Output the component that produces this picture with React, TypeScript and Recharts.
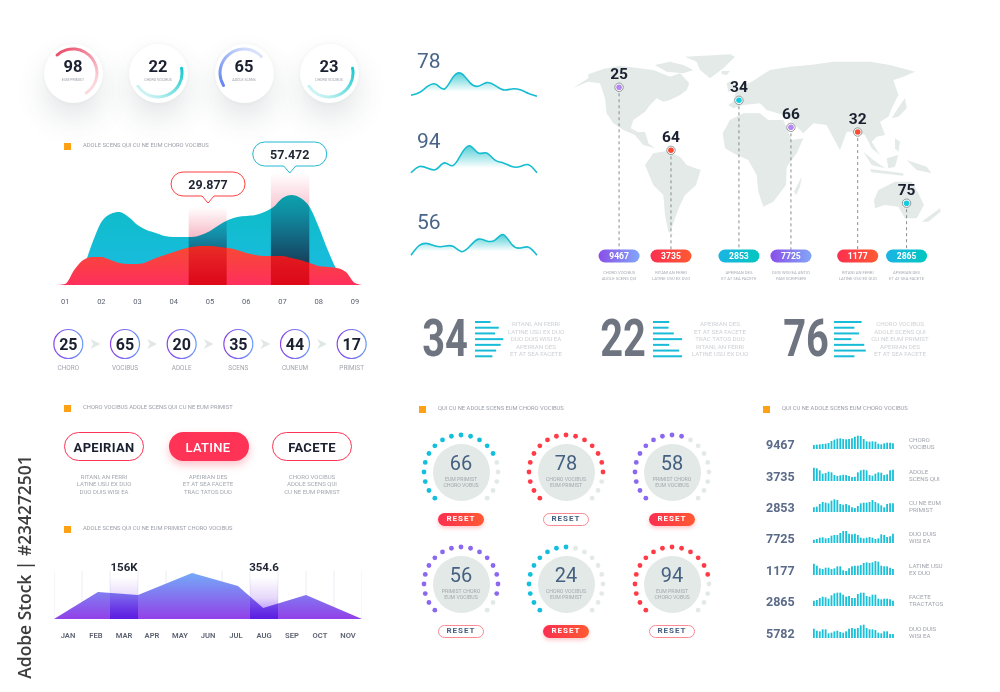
import React from 'react';
import {
  AreaChart, Area, BarChart, Bar, PieChart, Pie, ScatterChart, Scatter, CartesianGrid,
  XAxis, YAxis, ReferenceArea, ReferenceDot, ReferenceLine,
} from 'recharts';

const FONT = 'Roboto, sans-serif';

// top gauges
const gaugeValues = [98, 22, 65, 23];
const gaugeLabels = ['EUM PRIMIST', 'CHORO VOCIBUS', 'ADOLE SCENS', 'CHORO VOCIBUS'];

// main area chart, x is in units of the 01..09 axis
const waveX = [0.75, 1, 1.25, 1.5, 1.75, 2, 2.25, 2.5, 2.75, 3, 3.25, 3.5, 3.75, 4, 4.25, 4.5, 4.75, 5, 5.25, 5.5, 5.75, 6, 6.25, 6.5, 6.75, 7, 7.25, 7.5, 7.75, 8, 8.25, 8.5, 8.75, 9, 9.2];
const waveTeal = [0, 0, 2, 17, 42, 63, 71, 73, 68, 60, 55, 52, 49, 48, 48, 48, 50, 54, 60, 65, 68, 69, 70, 73, 78, 87, 90, 87, 78, 58, 35, 15, 3, 0, 0];
const waveRed = [0, 1, 15, 25, 28, 28, 25, 22, 21, 21, 23, 27, 30, 33, 36, 38, 39, 39, 38, 37, 35, 32, 30, 29, 29, 29, 27, 25, 22, 19, 18, 17, 13, 2, 0];
const waveTicks = [1, 2, 3, 4, 5, 6, 7, 8, 9];

// chain of numbers below it
const chainValues = [25, 65, 20, 35, 44, 17];
const chainLabels = ['CHORO', 'VOCIBUS', 'ADOLE', 'SCENS', 'CUNEUM', 'PRIMIST'];

// sparklines
const sparkNumbers = [78, 94, 56];
const spark1 = [3, 6, 13, 15, 10, 23, 27, 17, 13, 17, 14, 9, 10, 9, 5, 2];
const spark2 = [3, 10, 8, 7, 14, 11, 24, 33, 25, 25, 17, 14, 10, 10, 12, 3];
const spark3 = [2, 13, 15, 12, 12, 12, 6, 12, 20, 18, 19, 25, 14, 10, 11, 2];

// map pins
const pinLon = [-117.8, -70, -7.4, 40.5, 102, 147];
const pinLat = [53.75, 14.4, 45.6, 28.75, 25.8, -18.6];
const pinNumbers = [25, 64, 34, 66, 32, 75];
const pinValues = [9467, 3735, 2853, 7725, 1177, 2865];
const pinKinds = ['purple', 'red', 'teal', 'purple', 'red', 'teal'];
const pinCaptions = [
  ['CHORO VOCIBUS', 'ADOLE SCENS QUI'],
  ['RITANI AN FERRI', 'LATINE USU EX DUO'],
  ['APEIRIAN DES', 'ET AT SEA FACETE'],
  ['DUIS WISI EA ANTIO', 'PAM SCRIPSERI'],
  ['RITANI AN FERRI', 'LATINE USU EX DUO'],
  ['APEIRIAN DES', 'ET AT SEA FACETE'],
];

// kpi row with horizontal bars
const kpiNumbers = [34, 22, 76];
const kpiBars1 = [41, 63, 53, 75, 68, 56, 46];
const kpiBars2 = [43, 41, 55, 77, 43, 69, 77];
const kpiBars3 = [73, 54, 66, 46, 80, 84, 54];
const kpiText = [
  ['RITANI, AN FERRI', 'LATINE USU EX DUO', 'DUO DUIS WISI EA', 'APEIRIAN DES', 'ET AT SEA FACETE'],
  ['APEIRIAN DES', 'ET AT SEA FACETE', 'TRAC TATOS DUO', 'RITANI, AN FERRI', 'LATINE USU EX DUO'],
  ['CHORO VOCIBUS', 'ADOLE SCENS QUI', 'CU NE EUM PRIMIST', 'APEIRIAN DES', 'ET AT SEA FACETE'],
];

// pill buttons
const pillLabels = ['APEIRIAN', 'LATINE', 'FACETE'];
const pillText = [
  ['RITANI, AN FERRI', 'LATINE USU EX DUO', 'DUO DUIS WISI EA'],
  ['APEIRIAN DES', 'ET AT SEA FACETE', 'TRAC TATOS DUO'],
  ['CHORO VOCIBUS', 'ADOLE SCENS QUI', 'CU NE EUM PRIMIST'],
];

// purple month chart
const months = ['JAN', 'FEB', 'MAR', 'APR', 'MAY', 'JUN', 'JUL', 'AUG', 'SEP', 'OCT', 'NOV'];
const monthX = [0, 1.57, 3, 4.93, 6.57, 7.47, 9, 11];
const monthY = [0, 27, 24, 46, 33, 11, 24, 0];

// dot gauges
const dialValues = [66, 78, 58, 56, 24, 94];
const dialLit = [14, 16, 11, 17, 10, 15];
const dialColors = ['#12bfdc', '#ff3b47', '#8a68f0', '#8a68f0', '#12bfdc', '#ff3b47'];
const dialText = [
  ['EUM PRIMIST', 'CHORO VOBUS'],
  ['CHORO VOCIBUS', 'EUM PRIMIST'],
  ['PRIMIST CHORO', 'EUM VOCIBUS'],
  ['PRIMIST CHORO', 'EUM VOCIBUS'],
  ['CHORO VOCIBUS', 'EUM PRIMIST'],
  ['EUM PRIMIST', 'CHORO VOBUS'],
];
const dialReset = [true, false, true, false, true, false];

// small bar rows
const rowValues = [9467, 3735, 2853, 7725, 1177, 2865, 5782];
const rowText = [
  ['CHORO', 'VOCIBUS'], ['ADOLE', 'SCENS QUI'], ['CU NE EUM', 'PRIMIST'], ['DUO DUIS', 'WISI EA'],
  ['LATINE USU', 'EX DUO'], ['FACETE', 'TRACTATOS'], ['DUO DUIS', 'WISI EA'],
];
const row1 = [12, 13, 14, 15, 16, 18, 24, 28, 31, 32, 30, 29, 30, 32, 37, 40, 39, 30, 23, 22, 23, 22, 16, 14, 17, 19, 19, 17];
const row2 = [40, 38, 32, 22, 24, 28, 26, 18, 15, 17, 19, 18, 15, 12, 13, 26, 32, 34, 32, 18, 16, 22, 26, 25, 18, 20, 32, 34];
const row3 = [14, 16, 24, 30, 28, 26, 34, 38, 36, 24, 22, 24, 20, 14, 12, 18, 26, 28, 28, 30, 36, 30, 26, 20, 14, 24, 26, 26];
const row4 = [10, 12, 16, 17, 14, 15, 22, 24, 24, 30, 36, 36, 28, 26, 28, 24, 16, 14, 16, 18, 16, 12, 14, 26, 24, 18, 20, 28];
const row5 = [34, 28, 20, 18, 22, 22, 18, 20, 26, 26, 14, 12, 20, 26, 28, 28, 30, 36, 38, 36, 38, 42, 40, 28, 26, 26, 22, 18];
const row6 = [16, 18, 24, 28, 26, 22, 32, 38, 40, 40, 34, 28, 30, 24, 24, 36, 40, 40, 30, 28, 34, 34, 22, 20, 22, 22, 20, 16];
const row7 = [28, 22, 20, 26, 26, 14, 16, 20, 22, 18, 16, 20, 28, 30, 28, 30, 38, 40, 30, 26, 26, 24, 16, 14, 20, 20, 12, 12];
const rowSeries = [row1, row2, row3, row4, row5, row6, row7];

// map shapes, traced in a 1170x645 box
const continents = [
  '10,128 55,100 55,88 100,72 150,62 195,68 250,75 300,95 330,85 358,115 350,135 330,150 300,165 280,170 260,160 240,180 225,200 190,225 182,250 205,262 225,260 235,295 255,310 220,300 195,270 160,255 130,235 110,205 105,160 90,115 55,110',
  '255,60 300,50 340,60 370,75 340,85 290,80',
  '345,35 480,28 495,35 460,70 420,100 390,75 380,50',
  '455,78 480,78 470,90 455,88',
  '470,115 490,105 495,135 475,140',
  '225,360 250,325 290,318 330,335 350,360 392,375 378,420 345,450 330,480 315,520 300,565 318,570 295,560 285,510 280,450 250,420',
  '458,265 480,225 520,205 570,205 595,225 640,225 665,285 700,280 680,325 650,365 648,420 610,470 580,485 565,440 560,390 535,345 490,325 465,310',
  '672,440 695,395 690,425 678,450',
  '475,180 490,170 500,130 545,110 600,75 660,65 720,60 790,50 900,50 960,60 1035,80 1000,95 970,105 985,150 965,190 955,215 930,230 945,270 920,275 905,290 930,330 905,310 885,270 860,260 830,260 810,315 785,270 770,240 730,235 700,265 660,225 640,210 590,195 570,175 520,180 490,190',
  '990,180 1005,160 1010,190 985,215 965,220',
  '880,320 910,345 945,370 905,360',
  '950,340 985,330 975,365 955,370',
  '1010,345 1070,365 1085,385 1040,375',
  '900,372 1000,385 1000,392 905,382',
  '975,280 990,290 985,320 975,310',
  '912,465 925,435 975,410 1025,410 1045,445 1062,480 1040,520 1005,520 985,485 945,480 915,490',
  '1055,530 1110,490 1112,500 1075,530',
];

const pos = (left: number, top: number, width: number, height: number): React.CSSProperties => ({
  position: 'absolute', left, top, width, height,
});

const Txt = ({ x, y, size, color, weight = 400, align = 'center', children, spacing = 0, sx = 1 }: any) => (
  <div style={{
    position: 'absolute', left: x, top: y, whiteSpace: 'nowrap', fontFamily: FONT, fontSize: size, color,
    fontWeight: weight, lineHeight: 1, letterSpacing: spacing, textAlign: align,
    transform: `translate(${align === 'center' ? '-50%' : '0'}, -50%) scaleX(${sx})`,
    transformOrigin: align === 'center' ? 'center' : 'left',
  }}>{children}</div>
);

const Heading = ({ x, y, children }: any) => (
  <>
    <div style={{ ...pos(x, y - 3.5, 7, 7), background: '#ffa114' }} />
    <Txt x={x + 19} y={y} size={5.8} color="#9a9ea8" align="left">{children}</Txt>
  </>
);

const gaugeStyle = [
  { start: 135, end: -60, from: '#e8405f', to: '#fdecee', dir: [0, 0, 0.9, 1] },
  { start: 15, end: -150, from: '#0cc7cc', to: '#e8fafa', dir: [1, 0, 0, 0.9] },
  { start: 215, end: 40, from: '#5a7ff0', to: '#e6ecfd', dir: [0, 1, 0.9, 0] },
  { start: 15, end: -150, from: '#10c6cc', to: '#e8fafa', dir: [1, 0, 0, 0.9] },
];

const Gauge = ({ i, cx }: any) => {
  const s = gaugeStyle[i];
  return (
    <>
      <div style={{ ...pos(cx - 29.5, 43.5, 59, 59), borderRadius: '50%', background: '#fff', boxShadow: '0 16px 30px rgba(60,70,80,0.14), 0 0 4px rgba(60,70,80,0.05)' }} />
      <div style={pos(cx - 30, 43, 60, 60)}>
        <PieChart width={60} height={60} margin={{ top: 0, right: 0, bottom: 0, left: 0 }}>
          <defs>
            <linearGradient id={`ring${i}`} x1={s.dir[0]} y1={s.dir[1]} x2={s.dir[2]} y2={s.dir[3]}>
              <stop offset="0" stopColor={s.from} />
              <stop offset="1" stopColor={s.to} />
            </linearGradient>
          </defs>
          <Pie data={[{ v: gaugeValues[i] }]} dataKey="v" cx={30} cy={30} innerRadius={22.5} outerRadius={25.5}
            startAngle={s.start} endAngle={s.end} cornerRadius={1.5} stroke="none" fill={`url(#ring${i})`} isAnimationActive={false} />
        </PieChart>
      </div>
      <Txt x={cx} y={67} size={16.5} weight={700} color="#1b2030">{gaugeValues[i]}</Txt>
      <Txt x={cx} y={80.5} size={3.6} color="#9a9ea8">{gaugeLabels[i]}</Txt>
    </>
  );
};

const Callout = ({ cx, cy, color, text }: any) => (
  <g>
    <path
      d={`M${cx - 25} ${cy - 31} H${cx + 25} a12 12 0 0 1 0 24 H${cx + 6} L${cx} ${cy} L${cx - 6} ${cy - 7} H${cx - 25} a12 12 0 0 1 0 -24 Z`}
      fill="#fff" stroke={color} strokeWidth={1}
    />
    <text x={cx} y={cy - 14.5} textAnchor="middle" fontFamily={FONT} fontWeight={700} fontSize={12.5} fill="#1f2533">{text}</text>
  </g>
);

const WaveChart = () => {
  const data = waveX.map((x, i) => ({ x, teal: waveTeal[i], red: waveRed[i] }));
  return (
    <div style={pos(55, 135, 310, 180)}>
      <AreaChart width={310} height={180} data={data} margin={{ top: 5, right: 1, bottom: 0, left: 0 }}>
        <defs>
          <linearGradient id="waveTealFill" x1="0" y1="0" x2="0" y2="1">
            <stop offset="0" stopColor="#0cbcc4" />
            <stop offset="1" stopColor="#1cbce4" />
          </linearGradient>
          <linearGradient id="waveRedFill" x1="0" y1="0" x2="0" y2="1">
            <stop offset="0" stopColor="#f64a34" />
            <stop offset="1" stopColor="#ff2f5c" />
          </linearGradient>
          <linearGradient id="waveBand" x1="0" y1="0" x2="0" y2="1">
            <stop offset="0" stopColor="#ffffff" />
            <stop offset="0.35" stopColor="#f8c0cc" />
            <stop offset="1" stopColor="#dd2a40" />
          </linearGradient>
        </defs>
        <XAxis dataKey="x" type="number" domain={[0.72, 9.25]} ticks={waveTicks} interval={0}
          tickFormatter={(v: number) => `0${v}`} axisLine={false} tickLine={false}
          tick={{ fontFamily: FONT, fontSize: 7.5, fill: '#5c6270' }} tickMargin={8} height={30} />
        <YAxis hide domain={[0, 145]} />
        <Area dataKey="teal" type="monotone" stroke="none" fill="url(#waveTealFill)" fillOpacity={1} isAnimationActive={false} />
        <Area dataKey="red" type="monotone" stroke="none" fill="url(#waveRedFill)" fillOpacity={1} isAnimationActive={false} />
        <ReferenceArea x1={4.41} x2={5.46} y1={0} y2={78} fill="url(#waveBand)" fillOpacity={1} stroke="none" style={{ mixBlendMode: 'multiply' }} />
        <ReferenceArea x1={6.68} x2={7.74} y1={0} y2={112} fill="url(#waveBand)" fillOpacity={1} stroke="none" style={{ mixBlendMode: 'multiply' }} />
        <ReferenceDot x={4.945} y={82} r={0} shape={(p: any) => <Callout cx={p.cx} cy={p.cy} color="#ff4040" text="29.877" />} />
        <ReferenceDot x={7.2} y={112} r={0} shape={(p: any) => <Callout cx={p.cx} cy={p.cy} color="#22b8d0" text="57.472" />} />
      </AreaChart>
    </div>
  );
};

const ChainDot = (p: any) => {
  const { cx, cy, payload } = p;
  return (
    <g>
      <circle cx={cx} cy={cy} r={14.5} fill="#fff" stroke="url(#chainRing)" strokeWidth={1.2} />
      <text x={cx} y={cy + 6} textAnchor="middle" fontFamily={FONT} fontWeight={700} fontSize={16} fill="#1b2030">{payload.value}</text>
      {payload.x < chainValues.length - 1 && (
        <path d={`M${cx + 22} ${cy - 5} L${cx + 32} ${cy} L${cx + 22} ${cy + 5} L${cx + 25} ${cy} Z`} fill="#e0e7e5" />
      )}
    </g>
  );
};

const ChainChart = () => {
  const data = chainValues.map((value, x) => ({ x, y: 1, value }));
  return (
    <div style={pos(39.7, 324, 340, 60)}>
      <ScatterChart width={340} height={60} margin={{ top: 0, right: 0, bottom: 0, left: 0 }}>
        <defs>
          <linearGradient id="chainRing" x1="0" y1="0" x2="1" y2="0">
            <stop offset="0" stopColor="#8a44e6" />
            <stop offset="1" stopColor="#6a98f8" />
          </linearGradient>
        </defs>
        <XAxis dataKey="x" type="number" domain={[-0.5, 5.5]} ticks={[0, 1, 2, 3, 4, 5]} interval={0}
          tickFormatter={(v: number) => chainLabels[v]} axisLine={false} tickLine={false} height={20} tickSize={0} tickMargin={1}
          tick={{ fontFamily: FONT, fontSize: 6.4, fill: '#a0a4ac' }} />
        <YAxis dataKey="y" type="number" hide domain={[0, 2]} />
        <Scatter data={data} shape={ChainDot} isAnimationActive={false} />
      </ScatterChart>
    </div>
  );
};

const Spark = ({ id, values, top, height, max }: any) => {
  const data = values.map((v: number, i: number) => ({ i, v }));
  return (
    <div style={pos(410, top, 128, height)}>
      <AreaChart width={128} height={height} data={data} margin={{ top: 0, right: 1, bottom: 0, left: 1 }}>
        <defs>
          <linearGradient id={id} x1="0" y1="0" x2="0" y2="1">
            <stop offset="0" stopColor="#1cc0c8" stopOpacity={0.75} />
            <stop offset="0.75" stopColor="#1cc0c8" stopOpacity={0} />
          </linearGradient>
        </defs>
        <XAxis dataKey="i" hide />
        <YAxis hide domain={[0, max]} />
        <Area dataKey="v" type="natural" stroke="#16bcd0" strokeWidth={1.6} fill={`url(#${id})`} fillOpacity={1} isAnimationActive={false} />
      </AreaChart>
    </div>
  );
};

const pinFill: any = { purple: '#b488f0', red: '#fa4a30', teal: '#14cce0' };
const chipFrom: any = { purple: '#8a4fe8', red: '#fb2e50', teal: '#1ab4e4' };
const chipTo: any = { purple: '#82a6f8', red: '#ff5a32', teal: '#04c6c0' };

const PinTick = (p: any) => {
  const { x, index } = p;
  const kind = pinKinds[index];
  const y = 206; // chip centre inside this chart
  return (
    <g>
      <rect x={x - 20.5} y={y - 6.5} width={41} height={13} rx={6.5} fill={`url(#chip-${kind})`} />
      <text x={x} y={y + 3} textAnchor="middle" fontFamily={FONT} fontWeight={700} fontSize={8.6} fill="#fff">{pinValues[index]}</text>
      {pinCaptions[index].map((c, k) => (
        <text key={k} x={x} y={y + 17.5 + k * 6} textAnchor="middle" fontFamily={FONT} fontSize={4.2} fill="#a8acb4">{c}</text>
      ))}
    </g>
  );
};

const PinDot = (p: any) => {
  const { cx, cy, payload } = p;
  return (
    <g>
      <circle cx={cx} cy={cy} r={4.2} fill="#fff" stroke="#6a6e74" strokeWidth={0.7} />
      <circle cx={cx} cy={cy} r={2.8} fill={pinFill[payload.kind]} />
      <text x={cx} y={cy - 8} textAnchor="middle" fontFamily={FONT} fontWeight={700} fontSize={15.5} fill="#1b2030">{payload.num}</text>
    </g>
  );
};

const WorldMap = () => {
  const data = pinLon.map((x, i) => ({ x, y: pinLat[i], num: pinNumbers[i], kind: pinKinds[i] }));
  return (
    <>
      <svg style={pos(570, 45, 390, 215)} viewBox="0 0 1170 645">
        {continents.map((c, i) => <polygon key={i} points={c} fill="#e3eae7" />)}
      </svg>
      <div style={pos(570, 50, 380, 246)}>
        <ScatterChart width={380} height={246} margin={{ top: 0, right: 0, bottom: 0, left: 0 }}>
          <defs>
            {['purple', 'red', 'teal'].map(k => (
              <linearGradient key={k} id={`chip-${k}`} x1="0" y1="0" x2="1" y2="0">
                <stop offset="0" stopColor={chipFrom[k]} />
                <stop offset="1" stopColor={chipTo[k]} />
              </linearGradient>
            ))}
          </defs>
          <XAxis dataKey="x" type="number" domain={[-163, 187]} ticks={pinLon} interval={0} axisLine={false} tickLine={false}
            height={46} tick={PinTick} />
          <YAxis dataKey="y" type="number" hide domain={[-47.8, 77]} />
          {data.map((d, i) => (
            <ReferenceLine key={i} segment={[{ x: d.x, y: d.y }, { x: d.x, y: -47.8 }]} stroke="#7d8084" strokeDasharray="3 3" strokeWidth={0.9} />
          ))}
          <Scatter data={data} shape={PinDot} isAnimationActive={false} />
        </ScatterChart>
      </div>
    </>
  );
};

const KpiBars = ({ values, left }: any) => {
  const data = values.map((v: number, i: number) => ({ i, v }));
  return (
    <div style={pos(left, 319, 34, 40)}>
      <BarChart width={34} height={40} data={data} layout="vertical" margin={{ top: 0, right: 0, bottom: 0, left: 0 }}>
        <XAxis type="number" hide domain={[0, 90]} />
        <YAxis type="category" dataKey="i" hide />
        <Bar dataKey="v" fill="#18bcd8" barSize={2} isAnimationActive={false} />
      </BarChart>
    </div>
  );
};

const Lines = ({ x, y, step, size, color, lines }: any) => (
  <>
    {lines.map((l: string, i: number) => (
      <Txt key={i} x={x} y={y + i * step} size={size} color={color}>{l}</Txt>
    ))}
  </>
);

const MonthChart = () => {
  const data = monthX.map((x, i) => ({ x, y: monthY[i] }));
  const edges = months.map((_, i) => i).concat(months.length);
  return (
    <div style={pos(54, 555, 308, 90)}>
      <AreaChart width={308} height={90} data={data} margin={{ top: 16, right: 0, bottom: 0, left: 0 }}>
        <defs>
          <linearGradient id="monthFill" x1="0" y1="0" x2="0" y2="1">
            <stop offset="0" stopColor="#74aaf8" />
            <stop offset="1" stopColor="#9240e8" />
          </linearGradient>
          <linearGradient id="monthBand" x1="0" y1="0" x2="0" y2="1">
            <stop offset="0" stopColor="#ffffff" />
            <stop offset="0.5" stopColor="#e6d8fa" />
            <stop offset="1" stopColor="#a070f8" />
          </linearGradient>
        </defs>
        <CartesianGrid horizontal={false} verticalValues={edges} stroke="#e8eaf4" strokeWidth={0.8} />
        <XAxis dataKey="x" type="number" domain={[0, 11]} ticks={months.map((_, i) => i + 0.5)} interval={0}
          tickFormatter={(v: number) => months[v - 0.5]} axisLine={false} tickLine={false} height={26} tickMargin={8}
          tick={{ fontFamily: FONT, fontSize: 7.6, fontWeight: 600, fill: '#5c6270' }} />
        <YAxis hide domain={[0, 48]} />
        <Area dataKey="y" type="linear" stroke="none" fill="url(#monthFill)" fillOpacity={1} isAnimationActive={false} />
        <ReferenceArea x1={2} x2={3} y1={0} y2={42} fill="url(#monthBand)" fillOpacity={1} stroke="none" style={{ mixBlendMode: 'multiply' }}
          label={{ value: '156K', position: 'top', offset: 6, fontFamily: FONT, fontWeight: 700, fontSize: 11.5, fill: '#1f2533' }} />
        <ReferenceArea x1={7} x2={8} y1={0} y2={42} fill="url(#monthBand)" fillOpacity={1} stroke="none" style={{ mixBlendMode: 'multiply' }}
          label={{ value: '354.6', position: 'top', offset: 6, fontFamily: FONT, fontWeight: 700, fontSize: 11.5, fill: '#1f2533' }} />
      </AreaChart>
    </div>
  );
};

const DIAL_SLOTS = 19;

const Dial = ({ i, cx, cy }: any) => {
  const data = Array.from({ length: DIAL_SLOTS }, (_, k) => ({ k, v: 1 }));
  // the slices stay invisible, each one carries a round dot at its mid angle
  const dot = (p: any) => {
    const a = (-p.midAngle * Math.PI) / 180;
    return <circle key={p.index} cx={p.cx + 37 * Math.cos(a)} cy={p.cy + 37 * Math.sin(a)} r={2.4}
      fill={p.index < dialLit[i] ? dialColors[i] : '#e2e9e6'} />;
  };
  return (
    <>
      <div style={{ ...pos(cx - 28.5, cy - 28.5, 57, 57), borderRadius: '50%', background: '#e2e9e6' }} />
      <div style={pos(cx - 45, cy - 45, 90, 90)}>
        <PieChart width={90} height={90} margin={{ top: 0, right: 0, bottom: 0, left: 0 }}>
          <Pie data={data} dataKey="v" cx={45} cy={45} innerRadius={35} outerRadius={39} startAngle={232.5} endAngle={-52.5}
            stroke="none" fill="none" label={dot} labelLine={false} isAnimationActive={false} />
        </PieChart>
      </div>
      <Txt x={cx} y={cy - 9} size={21} color="#456080" sx={0.95}>{dialValues[i]}</Txt>
      <Lines x={cx} y={cy + 7.5} step={6.5} size={5.2} color="#a4a8ae" lines={dialText[i]} />
      <div style={{
        ...pos(cx - 23, cy + 40.5, 46, 13), boxSizing: 'border-box', borderRadius: 7,
        background: dialReset[i] ? 'linear-gradient(90deg,#fb2e50,#ff5a32)' : '#fff',
        border: dialReset[i] ? 'none' : '1px solid #fa8a94',
        boxShadow: dialReset[i] ? '0 2px 4px rgba(250,60,70,0.3)' : 'none',
      }} />
      <Txt x={cx} y={cy + 47} size={8} weight={700} spacing={1} color={dialReset[i] ? '#fff' : '#456080'}>RESET</Txt>
    </>
  );
};

const MiniBars = ({ values, top }: any) => {
  const data = values.map((v: number, i: number) => ({ i, v }));
  return (
    <div style={pos(811.5, top, 82, 15)}>
      <BarChart width={82} height={15} data={data} margin={{ top: 0, right: 0, bottom: 0, left: 0 }}>
        <XAxis dataKey="i" hide />
        <YAxis hide domain={[0, 45]} />
        <Bar dataKey="v" fill="#18c0d8" barSize={1.8} isAnimationActive={false} />
      </BarChart>
    </div>
  );
};

export default function App() {
  const gaugeX = [73, 158, 244, 329];
  const sparkY = [60.7, 141, 221.7];
  const kpiX = [445, 623, 806];
  const kpiBarX = [474.7, 652.7, 833.6];
  const kpiTextX = [536, 720, 900];
  const pillLeft = [64, 169, 272];
  const pillC = [104, 208, 312];
  const dialX = [461, 566, 672];
  const rowY = [445, 477, 508, 539, 571, 602, 634];

  return (
    <div style={{ ...pos(0, 0, 1000, 692), background: '#fff', overflow: 'hidden' }}>
      {gaugeX.map((cx, i) => <Gauge key={i} i={i} cx={cx} />)}

      <Heading x={64} y={146}>ADOLE SCENS QUI CU NE EUM CHORO VOCIBUS</Heading>
      <WaveChart />
      <ChainChart />

      {sparkNumbers.map((n, i) => <Txt key={i} x={417} y={sparkY[i]} size={21} color="#4a6488" align="left">{n}</Txt>)}
      <Spark id="spark1" values={spark1} top={69} height={29} max={32} />
      <Spark id="spark2" values={spark2} top={143.5} height={31.5} max={35} />
      <Spark id="spark3" values={spark3} top={232} height={25} max={28} />

      <WorldMap />

      {kpiNumbers.map((n, i) => (
        <Txt key={i} x={kpiX[i]} y={338} size={51} weight={700} color="#6e7480" sx={0.78}>{n}</Txt>
      ))}
      <KpiBars values={kpiBars1} left={kpiBarX[0]} />
      <KpiBars values={kpiBars2} left={kpiBarX[1]} />
      <KpiBars values={kpiBars3} left={kpiBarX[2]} />
      {kpiText.map((t, i) => <Lines key={i} x={kpiTextX[i]} y={324} step={7.6} size={6.2} color="#cdd0d4" lines={t} />)}

      <Heading x={64} y={408}>CHORO VOCIBUS ADOLE SCENS QUI CU NE EUM PRIMIST</Heading>
      {pillLabels.map((l, i) => {
        const on = i === 1;
        return (
          <React.Fragment key={l}>
            <div style={{
              ...pos(pillLeft[i], 432, 80, 29), boxSizing: 'border-box', borderRadius: 15,
              background: on ? '#ff3355' : '#fff', border: on ? 'none' : '1.2px solid #ff3355',
              boxShadow: on ? '0 4px 8px rgba(255,50,80,0.3)' : 'none',
            }} />
            <Txt x={pillC[i]} y={447} size={13} weight={on ? 500 : 700} spacing={0.3} color={on ? '#fff' : '#1b2030'}>{l}</Txt>
            <Lines x={pillC[i]} y={477} step={7.4} size={6} color="#a4a8ae" lines={pillText[i]} />
          </React.Fragment>
        );
      })}

      <Heading x={64} y={529}>ADOLE SCENS QUI CU NE EUM PRIMIST CHORO VOCIBUS</Heading>
      <MonthChart />

      <Heading x={419} y={409}>QUI CU NE ADOLE SCENS EUM CHORO VOCIBUS</Heading>
      {dialValues.map((_, i) => <Dial key={i} i={i} cx={dialX[i % 3]} cy={i < 3 ? 472 : 584} />)}

      <Heading x={763} y={409}>QUI CU NE ADOLE SCENS EUM CHORO VOCIBUS</Heading>
      {rowValues.map((v, i) => (
        <React.Fragment key={i}>
          <Txt x={766} y={rowY[i]} size={12.5} weight={700} color="#5a6a88" align="left">{v}</Txt>
          <MiniBars values={rowSeries[i]} top={rowY[i] - 11} />
          {rowText[i].map((l, k) => <Txt key={k} x={909} y={rowY[i] - 5 + k * 7.4} size={6.2} color="#a0a4ac" align="left">{l}</Txt>)}
        </React.Fragment>
      ))}

      <div style={{
        position: 'absolute', left: 24, top: 567, whiteSpace: 'nowrap', fontFamily: '"Open Sans", sans-serif', fontSize: 17.4,
        fontWeight: 600, color: '#3d3d3d', transform: 'translate(-50%,-50%) rotate(-90deg)',
      }}>Adobe Stock | #234272501</div>
    </div>
  );
}
